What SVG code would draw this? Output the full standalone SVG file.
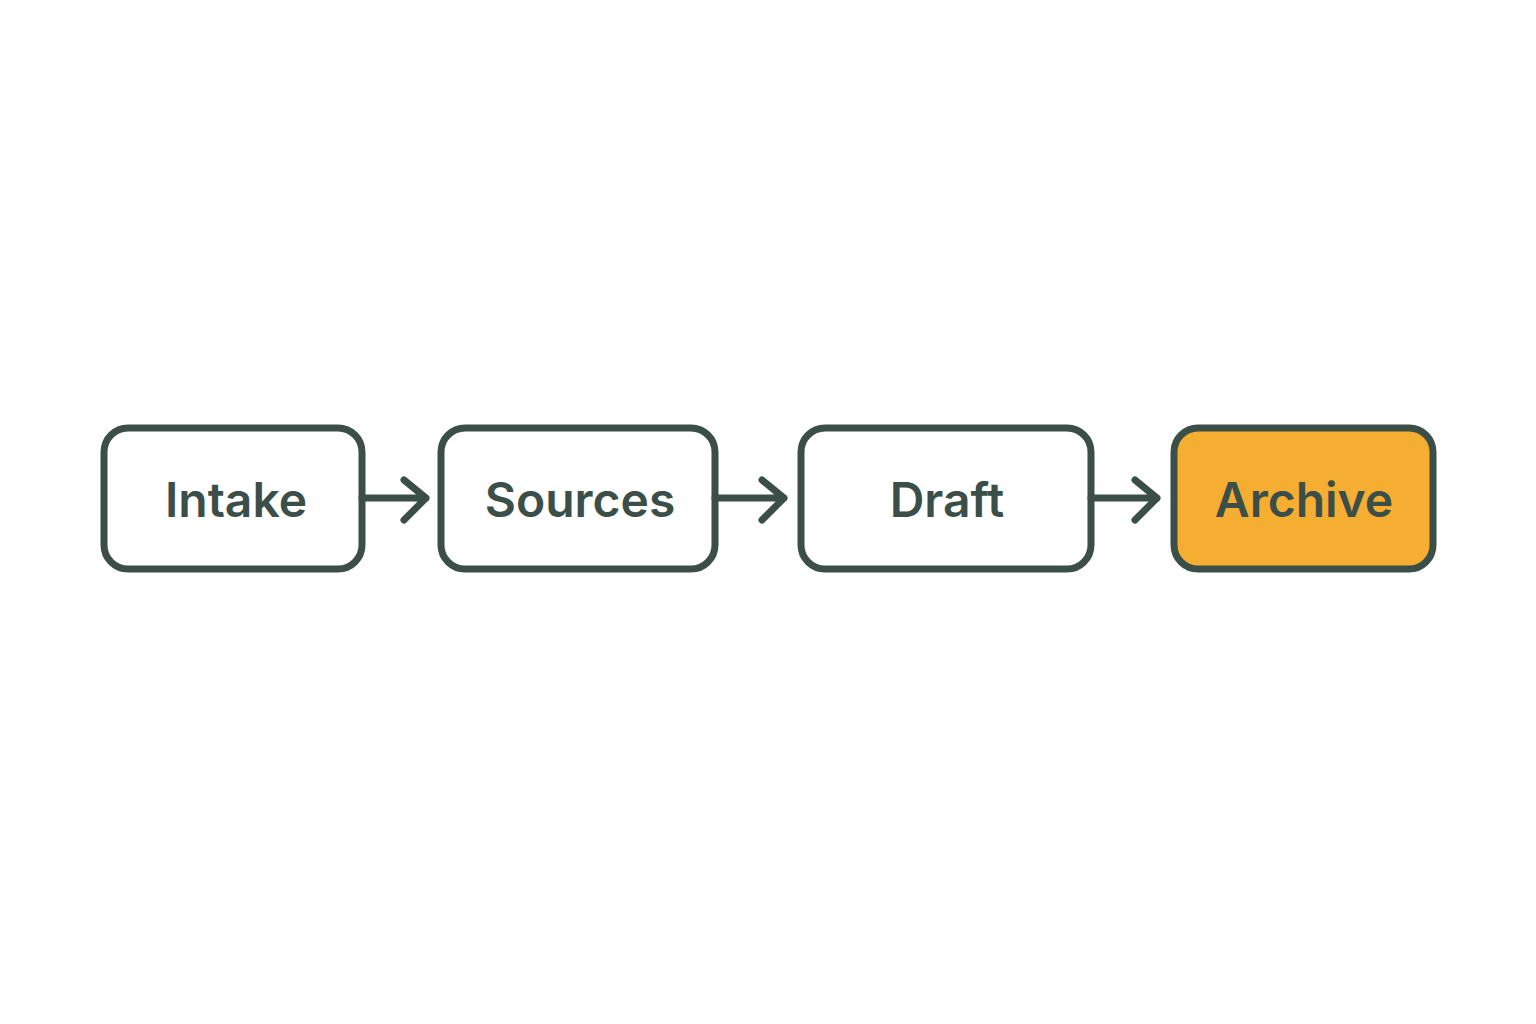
<svg xmlns="http://www.w3.org/2000/svg" width="1536" height="1024" viewBox="0 0 1536 1024">
<style>
.box{fill:#fff;stroke:#3b4e48;stroke-width:7}
.lbl{font-family:"Inter","Noto Sans",sans-serif;font-weight:600;font-size:48px;fill:#3b4e48;text-anchor:middle;dominant-baseline:central}
.c{stroke:#3b4e48;stroke-width:7;fill:none;stroke-linecap:round;stroke-linejoin:round}
</style>
<rect width="1536" height="1024" fill="#fff"/>
<g id="intake"><rect class="box" x="104" y="428" width="258" height="141" rx="24"/><text class="lbl" x="236" y="499">Intake</text></g>
<g id="sources"><rect class="box" x="441" y="428" width="274" height="141" rx="24"/><text class="lbl" x="580" y="499">Sources</text></g>
<g id="draft"><rect class="box" x="801" y="428" width="290" height="141" rx="24"/><text class="lbl" x="947" y="499">Draft</text></g>
<g id="archive"><rect class="box" x="1174" y="428" width="259" height="141" rx="24" style="fill:#f5ae32"/><text class="lbl" x="1304" y="499">Archive</text></g>
<g id="connectors">
<path class="c" d="M362 498H426M404 480L426 498L404 520"/>
<path class="c" d="M715 498H784M762 480L784 498L762 520"/>
<path class="c" d="M1091 498H1157M1135 480L1157 498L1135 520"/>
</g>
</svg>
